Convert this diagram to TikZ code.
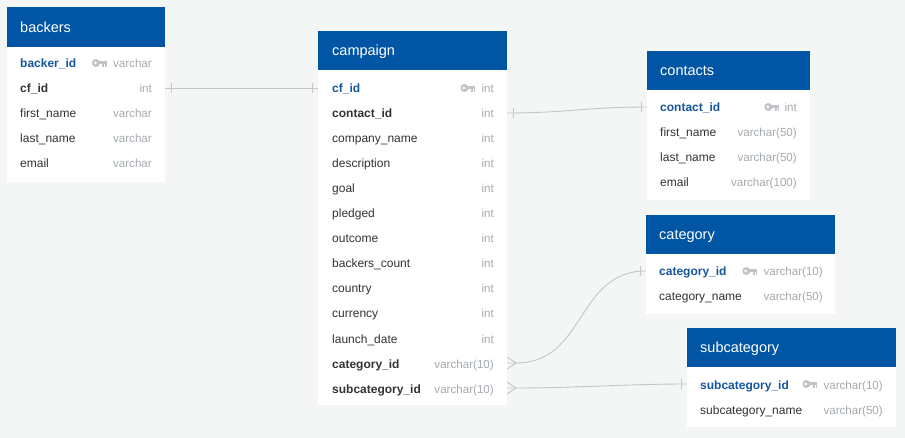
\documentclass[tikz,border=0pt]{standalone}
\usepackage{fontspec}
\setmainfont{Liberation Sans}
\usetikzlibrary{calc}
\definecolor{bgc}{RGB}{244,245,245}
\definecolor{hdrblue}{RGB}{0,86,165}
\definecolor{pkblue}{RGB}{22,86,156}
\definecolor{dark}{RGB}{51,51,51}
\definecolor{typgray}{RGB}{165,170,175}
\definecolor{keygray}{RGB}{192,196,200}
\definecolor{linegray}{RGB}{196,198,198}
\tikzset{
  hdr/.style={fill=hdrblue, draw=none, anchor=north west, inner sep=0pt, outer sep=0pt},
  tbody/.style={fill=white, draw=none, anchor=north west, inner sep=0pt, outer sep=0pt},
  htext/.style={text=white, anchor=west, inner sep=0pt, text height=10.5pt, text depth=0pt, font=\fontsize{14.5}{17}\selectfont},
  rowbase/.style={inner sep=0pt, text height=10pt, text depth=0pt, font=\fontsize{12}{14}\selectfont},
  pk/.style={rowbase, anchor=west, text=pkblue, font=\fontsize{12}{14}\selectfont\bfseries},
  fk/.style={rowbase, anchor=west, text=dark, font=\fontsize{12}{14}\selectfont\bfseries},
  col/.style={rowbase, anchor=west, text=dark},
  typ/.style={rowbase, anchor=east, text=typgray, font=\fontsize{11.6}{14}\selectfont},
  conn/.style={draw=linegray, line width=0.9pt},
  keyicon/.pic={
    \fill[keygray] (4,0) circle (4);
    \fill[white] (3.4,0) circle (1.5);
    \fill[keygray] (6.5,-1.6) rectangle (15,1.3);
    \fill[keygray] (10.5,1.3) rectangle (12.2,3.6);
    \fill[keygray] (13.2,1.3) rectangle (15,3.6);
  }
}
\begin{document}
\begin{tikzpicture}[x=1pt,y=-1pt]
\fill[bgc] (0,0) rectangle (905,438);
\useasboundingbox (0,0) rectangle (905,438);

% ---------- backers ----------
\node[tbody, minimum width=158pt, minimum height=135pt] (bk-body) at (7,47) {};
\node[hdr, minimum width=158pt, minimum height=40pt] (bk-hdr) at (7,7) {};
\node[htext] (bk-title) at (20,27) {backers};
\node[pk]  (bk-id)   at (20,63)  {backer\_id};
\node[typ] (bk-id-t) at (152,63) {varchar};
\node[fk]  (bk-cf)   at (20,88)  {cf\_id};
\node[typ] (bk-cf-t) at (152,88) {int};
\node[col] (bk-fn)   at (20,113) {first\_name};
\node[typ] (bk-fn-t) at (152,113) {varchar};
\node[col] (bk-ln)   at (20,138) {last\_name};
\node[typ] (bk-ln-t) at (152,138) {varchar};
\node[col] (bk-em)   at (20,163) {email};
\node[typ] (bk-em-t) at (152,163) {varchar};
\pic at ([xshift=-21pt]bk-id-t.west) {keyicon};

% ---------- campaign ----------
\node[tbody, minimum width=189pt, minimum height=335pt] (cp-body) at (318,70) {};
\node[hdr, minimum width=189pt, minimum height=39pt] (cp-hdr) at (318,31) {};
\node[htext] (cp-title) at (332,50.5) {campaign};
\node[pk]  (cp-cf)    at (332,88)  {cf\_id};
\node[typ] (cp-cf-t)  at (494,88)  {int};
\node[fk]  (cp-ct)    at (332,113) {contact\_id};
\node[typ] (cp-ct-t)  at (494,113) {int};
\node[col] (cp-cn)    at (332,138) {company\_name};
\node[typ] (cp-cn-t)  at (494,138) {int};
\node[col] (cp-ds)    at (332,163) {description};
\node[typ] (cp-ds-t)  at (494,163) {int};
\node[col] (cp-gl)    at (332,188) {goal};
\node[typ] (cp-gl-t)  at (494,188) {int};
\node[col] (cp-pl)    at (332,213) {pledged};
\node[typ] (cp-pl-t)  at (494,213) {int};
\node[col] (cp-oc)    at (332,238) {outcome};
\node[typ] (cp-oc-t)  at (494,238) {int};
\node[col] (cp-bc)    at (332,263) {backers\_count};
\node[typ] (cp-bc-t)  at (494,263) {int};
\node[col] (cp-co)    at (332,288) {country};
\node[typ] (cp-co-t)  at (494,288) {int};
\node[col] (cp-cu)    at (332,313) {currency};
\node[typ] (cp-cu-t)  at (494,313) {int};
\node[col] (cp-ld)    at (332,338) {launch\_date};
\node[typ] (cp-ld-t)  at (494,338) {int};
\node[fk]  (cp-cat)   at (332,363) {category\_id};
\node[typ] (cp-cat-t) at (494,363) {varchar(10)};
\node[fk]  (cp-sub)   at (332,388) {subcategory\_id};
\node[typ] (cp-sub-t) at (494,388) {varchar(10)};
\pic at ([xshift=-21pt]cp-cf-t.west) {keyicon};

% ---------- contacts ----------
\node[tbody, minimum width=163pt, minimum height=110pt] (ct-body) at (647,90) {};
\node[hdr, minimum width=163pt, minimum height=39pt] (ct-hdr) at (647,51) {};
\node[htext] (ct-title) at (660,70.5) {contacts};
\node[pk]  (ct-id)   at (660,107) {contact\_id};
\node[typ] (ct-id-t) at (797,107) {int};
\node[col] (ct-fn)   at (660,132) {first\_name};
\node[typ] (ct-fn-t) at (797,132) {varchar(50)};
\node[col] (ct-ln)   at (660,157) {last\_name};
\node[typ] (ct-ln-t) at (797,157) {varchar(50)};
\node[col] (ct-em)   at (660,182) {email};
\node[typ] (ct-em-t) at (797,182) {varchar(100)};
\pic at ([xshift=-20pt]ct-id-t.west) {keyicon};

% ---------- category ----------
\node[tbody, minimum width=189pt, minimum height=60pt] (cg-body) at (646,254) {};
\node[hdr, minimum width=189pt, minimum height=39pt] (cg-hdr) at (646,215) {};
\node[htext] (cg-title) at (659,234.5) {category};
\node[pk]  (cg-id)   at (659,271) {category\_id};
\node[typ] (cg-id-t) at (823,271) {varchar(10)};
\node[col] (cg-nm)   at (659,296) {category\_name};
\node[typ] (cg-nm-t) at (823,296) {varchar(50)};
\pic at ([xshift=-21pt]cg-id-t.west) {keyicon};

% ---------- subcategory ----------
\node[tbody, minimum width=209pt, minimum height=60pt] (sc-body) at (687,367) {};
\node[hdr, minimum width=209pt, minimum height=39pt] (sc-hdr) at (687,328) {};
\node[htext] (sc-title) at (700,347.5) {subcategory};
\node[pk]  (sc-id)   at (700,384) {subcategory\_id};
\node[typ] (sc-id-t) at (883,384) {varchar(10)};
\node[col] (sc-nm)   at (700,409) {subcategory\_name};
\node[typ] (sc-nm-t) at (883,409) {varchar(50)};
\pic at ([xshift=-21pt]sc-id-t.west) {keyicon};

% ---------- connectors ----------
\coordinate (e1a) at (bk-body.east |- bk-cf);
\coordinate (e1b) at (cp-body.west |- cp-cf);
\draw[conn] (e1a) -- (e1b);
\draw[conn] ([xshift=6pt,yshift=-5pt]e1a) -- ([xshift=6pt,yshift=5pt]e1a);
\draw[conn] ([xshift=-6pt,yshift=-5pt]e1b) -- ([xshift=-6pt,yshift=5pt]e1b);

\coordinate (e2a) at (cp-body.east |- cp-ct);
\coordinate (e2b) at (ct-body.west |- ct-id);
\draw[conn] (e2a) .. controls +(60,0) and +(-60,0) .. (e2b);
\draw[conn] ([xshift=6pt,yshift=-5pt]e2a) -- ([xshift=6pt,yshift=5pt]e2a);
\draw[conn] ([xshift=-6pt,yshift=-5pt]e2b) -- ([xshift=-6pt,yshift=5pt]e2b);

\coordinate (e3a) at (cp-body.east |- cp-cat);
\coordinate (e3b) at (cg-body.west |- cg-id);
\draw[conn] (e3a) -- ++(9,0) .. controls +(70,0) and +(-70,0) .. (e3b);
\draw[conn] ([yshift=-6pt]e3a) -- ([xshift=9pt]e3a) -- ([yshift=6pt]e3a);
\draw[conn] ([xshift=-6pt,yshift=-5pt]e3b) -- ([xshift=-6pt,yshift=5pt]e3b);

\coordinate (e4a) at (cp-body.east |- cp-sub);
\coordinate (e4b) at (sc-body.west |- sc-id);
\draw[conn] (e4a) -- ++(9,0) .. controls +(60,0) and +(-60,0) .. (e4b);
\draw[conn] ([yshift=-6pt]e4a) -- ([xshift=9pt]e4a) -- ([yshift=6pt]e4a);
\draw[conn] ([xshift=-6pt,yshift=-5pt]e4b) -- ([xshift=-6pt,yshift=5pt]e4b);
\end{tikzpicture}
\end{document}
